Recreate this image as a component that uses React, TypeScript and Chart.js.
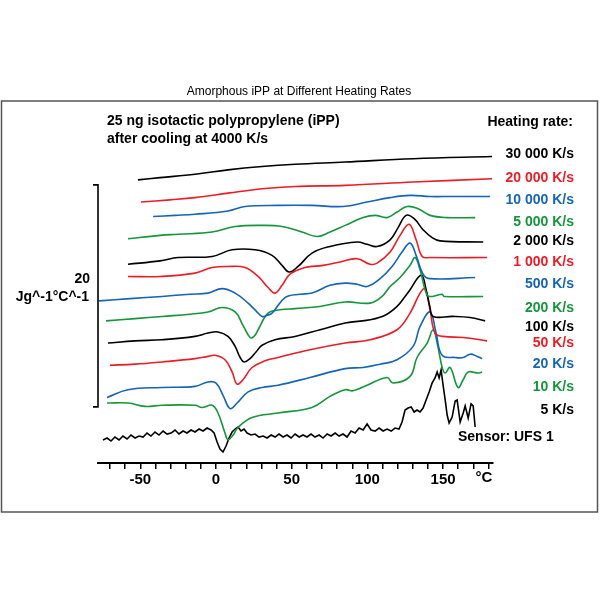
import React, { useEffect, useRef } from 'react';
import { Chart, registerables } from 'chart.js';

Chart.register(...registerables);

const FONT = '"Liberation Sans", Arial, Helvetica, sans-serif';

const BLACK = '#000000';
const RED = '#ec1c24';
const BLUE = '#1464b8';
const GREEN = '#14963a';

// Heating-rate labels (top to bottom)
const rateLabels = ['30 000 K/s', '20 000 K/s', '10 000 K/s', '5 000 K/s', '2 000 K/s', '1 000 K/s', '500 K/s', '200 K/s', '100 K/s', '50 K/s', '20 K/s', '10 K/s', '5 K/s'];
const rateColors = [BLACK, RED, BLUE, GREEN, BLACK, RED, BLUE, GREEN, BLACK, RED, BLUE, GREEN, BLACK];

// x tick labels every 50 °C, minor ticks every 10 °C
const xMajorStep = 50;

// Temperature (°C) and apparent heat capacity (J g^-1 °C^-1, curves offset vertically)
const t30000 = [-51.6, -37, -13.9, 7.9, 30.4, 52.2, 85.3, 130.2, 182.4];
const c30000 = [25.5, 25.7, 26.0, 26.4, 26.7, 26.9, 27.1, 27.4, 27.6];

const t20000 = [-49.6, -30.4, -13.9, 7.9, 30.4, 52.2, 85.3, 130.2, 182.4];
const c20000 = [23.5, 23.7, 23.9, 24.3, 24.7, 24.9, 25.0, 25.3, 25.6];

const t10000 = [-41.6, -27.1, -13.9, 7.9, 19.2, 41.0, 63.4, 83.9, 99.8, 115, 128.2, 141.4, 154.7, 181.1];
const c10000 = [22.2, 22.3, 22.4, 22.7, 23.1, 23.2, 23.2, 23.1, 23.5, 23.9, 24.1, 24.0, 24.0, 24.0];

const t5000 = [-58.2, -37, -25.1, -2.6, 12.6, 30.4, 43.6, 56.8, 66.8, 75.3, 85.3, 97.2, 105.1, 113, 119.6, 126.2, 133.5, 141.4, 152.7, 171.2];
const c5000 = [20.2, 20.5, 20.6, 20.8, 21.3, 21.4, 21.3, 20.8, 20.4, 20.8, 21.4, 22.1, 22.3, 22.1, 22.6, 23.1, 22.9, 22.3, 22.1, 22.1];

const t2000 = [-58.2, -37, -25.1, -2.6, 10.6, 25.8, 37, 43.6, 48.2, 54.2, 63.4, 75.3, 93.2, 99.8, 106.4, 115, 120.3, 125.6, 130.9, 136.8, 142.8, 148, 176.5];
const c2000 = [17.9, 18.2, 18.5, 18.6, 19.2, 19.2, 18.7, 17.8, 17.2, 17.7, 18.9, 19.5, 19.9, 19.7, 19.5, 20.1, 21.2, 22.3, 22.0, 21.0, 20.3, 20.0, 19.9];

const t1000 = [-58.2, -37, -13.9, -2.6, 7.9, 19.2, 27.8, 34.4, 39, 43.6, 48.9, 58.8, 70.7, 82, 93.2, 101.8, 106.4, 115, 121.6, 127.6, 132.2, 136.2, 141.4, 179.1];
const c1000 = [16.8, 16.8, 17.1, 17.6, 17.7, 17.6, 16.8, 15.8, 15.3, 16.0, 17.0, 17.6, 17.8, 18.1, 18.4, 17.9, 18.0, 19.0, 20.5, 21.5, 20.1, 18.6, 18.5, 18.5];

const t500 = [-77.3, -56.8, -35.7, -17.2, -5.3, 4, 12.6, 21.2, 26.4, 30.4, 33.7, 37, 45.6, 55.5, 63.4, 75.3, 85.3, 93.2, 99.8, 108.4, 116.3, 122.9, 128.2, 132.2, 136.8, 141.4, 171.2];
const c500 = [14.6, 14.8, 15.0, 15.2, 15.3, 15.7, 15.3, 14.4, 13.7, 13.2, 13.3, 13.5, 14.9, 15.2, 15.3, 16.0, 16.2, 16.1, 15.9, 16.6, 17.7, 19.0, 19.8, 18.7, 17.0, 16.6, 16.7];

const t200 = [-72.7, -53.5, -35.7, -17.2, -5.3, 4, 12.6, 17.8, 22.5, 25.1, 27.8, 34.4, 42.3, 52.2, 68.7, 85.3, 101.8, 109.7, 115, 121.6, 128.2, 131.5, 134.8, 139.5, 142.8, 149.4, 150.7, 176.5];
const c200 = [12.8, 13.0, 13.2, 13.4, 13.6, 14.0, 13.6, 12.4, 11.3, 11.4, 12.0, 13.5, 13.8, 13.9, 14.1, 14.5, 14.4, 15.0, 15.9, 16.7, 17.8, 18.5, 17.4, 15.1, 15.0, 15.2, 15.0, 15.0];

const t100 = [-71.4, -53.5, -35.7, -13.9, -5.3, 1.3, 7.9, 12.6, 15.9, 18.5, 22.5, 26.4, 30.4, 39, 52.2, 68.7, 85.3, 101.8, 111.7, 119.6, 124.9, 128.2, 133.5, 136.2, 138.8, 141.4, 143.4, 156.6, 167.9, 177.8];
const c100 = [10.8, 11.0, 11.1, 11.4, 11.7, 11.8, 11.4, 10.5, 9.5, 9.1, 9.4, 10.0, 10.6, 11.1, 11.4, 12.0, 12.6, 12.9, 13.3, 14.1, 15.0, 15.6, 16.7, 16.9, 15.6, 14.0, 13.2, 13.2, 13.1, 12.8];

const t50 = [-70.1, -53.5, -35.7, -13.9, -5.3, -0.7, 5.9, 10.6, 13.9, 17.8, 23.8, 32.4, 41, 62.1, 85.3, 101.8, 119.6, 128.2, 134.8, 138.1, 141.4, 144.7, 150, 163.3, 179.1];
const c50 = [8.8, 8.9, 9.1, 9.4, 9.6, 9.7, 9.3, 8.2, 7.1, 7.5, 8.6, 9.2, 9.5, 10.2, 10.8, 11.1, 12.0, 13.5, 15.3, 15.7, 13.8, 11.7, 11.4, 11.3, 11.0];

const t20 = [-72, -58.2, -35.7, -13.9, -5.3, 0, 4.6, 9.3, 13.9, 21.2, 30.4, 41, 62.1, 85.3, 97.2, 108.4, 119.6, 130.2, 134.8, 141.4, 145.4, 149.4, 158, 163.3, 167.9, 172.5, 175.8];
const c20 = [5.9, 6.6, 6.8, 6.9, 7.3, 7.2, 6.1, 4.9, 5.4, 6.4, 6.8, 7.0, 7.7, 8.5, 8.6, 8.9, 9.3, 10.5, 12.3, 13.6, 11.7, 9.7, 9.5, 9.5, 9.8, 9.6, 9.4];

const t10 = [-72, -58.2, -46.9, -35.7, -13.9, -9.3, -2.6, 1.3, 5.9, 7.9, 11.2, 14.5, 23.8, 41, 63.4, 75.3, 85.3, 90.5, 99.8, 113, 117, 128.2, 132.8, 139.5, 143.4, 146.1, 149.4, 151.4, 154.7, 159.9, 163.3, 166.6, 173.2, 175.8];
const c10 = [5.4, 5.4, 5.1, 5.2, 5.2, 5.0, 5.2, 4.5, 2.7, 2.1, 2.5, 3.2, 4.1, 4.5, 5.0, 6.0, 6.6, 6.5, 7.0, 7.7, 7.2, 7.8, 9.5, 10.8, 12.0, 10.8, 8.6, 8.1, 8.6, 6.8, 7.5, 8.2, 8.1, 8.2];

const t5 = [-74.7, -72.0, -69.4, -66.8, -64.1, -61.5, -58.8, -56.2, -53.5, -50.9, -48.2, -45.6, -43.0, -40.3, -37.7, -35.0, -32.4, -29.7, -27.1, -24.5, -21.8, -19.2, -16.5, -13.9, -11.2, -8.6, -5.9, -3.3, -1.3, 0.7, 2.6, 4.6, 6.6, 8.6, 10.6, 12.6, 14.5, 16.5, 18.5, 20.5, 23.1, 25.8, 28.4, 31.1, 33.7, 36.4, 39.0, 41.6, 44.3, 46.9, 49.6, 52.2, 54.9, 57.5, 60.1, 62.8, 65.4, 68.1, 70.7, 73.4, 76.0, 78.7, 81.3, 83.9, 86.6, 89.2, 91.9, 94.5, 97.2, 99.8, 102.4, 105.1, 107.7, 110.4, 113.0, 115.7, 118.3, 120.9, 122.9, 124.9, 126.9, 128.9, 130.9, 132.8, 134.8, 136.8, 138.8, 140.8, 142.8, 144.7, 146.1, 147.4, 148.7, 150.0, 151.4, 152.7, 154.0, 156.0, 158.0, 159.3, 161.3, 163.3, 164.6, 166.6, 168.5, 169.9, 171.2];
const c5 = [2.07, 2.25, 1.98, 2.34, 2.07, 2.43, 2.16, 2.52, 2.25, 2.43, 2.34, 2.70, 2.43, 2.79, 2.52, 2.88, 2.61, 2.70, 2.97, 2.61, 2.88, 2.70, 2.97, 2.79, 3.06, 2.88, 3.15, 2.97, 2.70, 1.89, 1.26, 0.99, 1.53, 2.25, 2.79, 3.06, 3.24, 2.88, 3.06, 2.70, 2.52, 2.61, 2.34, 2.43, 2.25, 2.52, 2.34, 2.61, 2.34, 2.52, 2.25, 2.61, 2.34, 2.52, 2.34, 2.61, 2.34, 2.52, 2.25, 2.61, 2.43, 2.70, 2.43, 2.61, 2.34, 2.88, 2.70, 3.15, 2.97, 3.51, 2.97, 2.88, 3.15, 2.88, 3.06, 2.88, 3.15, 3.06, 3.69, 4.77, 4.95, 5.05, 4.59, 4.77, 4.59, 4.95, 5.68, 6.40, 7.21, 7.66, 8.20, 7.66, 8.38, 7.03, 5.68, 4.32, 3.60, 4.14, 5.59, 5.68, 3.69, 4.50, 5.14, 4.05, 5.32, 5.14, 3.24];

// Scale bar: 20 J g^-1 °C^-1
const scaleBarBottom = 5.05;
const scaleBarSize = 20;

const seriesT = [t30000, t20000, t10000, t5000, t2000, t1000, t500, t200, t100, t50, t20, t10, t5];
const seriesC = [c30000, c20000, c10000, c5000, c2000, c1000, c500, c200, c100, c50, c20, c10, c5];

const pts = (t: number[], c: number[]) => t.map((x, i) => ({ x, y: c[i] }));

const labelYs = [154, 178, 200, 222, 241, 262, 284, 308, 327, 343, 364, 387, 410];

const annotations = {
  id: 'annotations',
  afterDraw(chart: any) {
    const ctx = chart.ctx as CanvasRenderingContext2D;
    const xs = chart.scales.x;
    const ys = chart.scales.y;
    ctx.save();
    // frame
    ctx.strokeStyle = '#555555';
    ctx.lineWidth = 1.5;
    ctx.strokeRect(1.5, 101, 596, 411);

    ctx.textBaseline = 'middle';
    // title
    ctx.fillStyle = '#000';
    ctx.font = `12px ${FONT}`;
    ctx.textAlign = 'center';
    ctx.fillText('Amorphous iPP at Different Heating Rates', 299, 92);

    ctx.font = `bold 14px ${FONT}`;
    ctx.textAlign = 'left';
    ctx.fillText('25 ng isotactic polypropylene (iPP)', 107, 121);
    ctx.fillText('after cooling at 4000 K/s', 107, 139);
    ctx.textAlign = 'right';
    ctx.fillText('Heating rate:', 573, 122);

    rateLabels.forEach((lab, i) => {
      ctx.fillStyle = rateColors[i];
      ctx.fillText(lab, 574, labelYs[i]);
    });

    ctx.fillStyle = '#000';
    ctx.textAlign = 'left';
    ctx.fillText('Sensor: UFS 1', 458, 437);

    // °C unit
    ctx.font = `bold 15px ${FONT}`;
    ctx.textAlign = 'center';
    ctx.fillText('°C', 484, 478);

    // scale bar
    const bx = xs.getPixelForValue(xs.min);
    const top = ys.getPixelForValue(scaleBarBottom + scaleBarSize);
    const bot = ys.getPixelForValue(scaleBarBottom);
    ctx.strokeStyle = '#000';
    ctx.lineWidth = 1.6;
    ctx.beginPath();
    ctx.moveTo(bx - 5, top);
    ctx.lineTo(bx, top);
    ctx.lineTo(bx, bot);
    ctx.lineTo(bx - 5, bot);
    ctx.stroke();

    ctx.font = `bold 14px ${FONT}`;
    ctx.textAlign = 'right';
    ctx.fillText(String(scaleBarSize), 90, 279);
    ctx.fillText('Jg^-1°C^-1', 89, 297);
    ctx.restore();
  },
};

export default function App() {
  const ref = useRef<HTMLCanvasElement>(null);
  useEffect(() => {
    const chart = new Chart(ref.current as HTMLCanvasElement, {
      type: 'line',
      data: {
        datasets: seriesT.map((t, i) => ({
          label: rateLabels[i],
          data: pts(t, seriesC[i]),
          borderColor: rateColors[i],
          backgroundColor: rateColors[i],
          borderWidth: 1.6,
          pointRadius: 0,
          fill: false,
          tension: i === 12 ? 0 : 0.4,
        })),
      },
      options: {
        responsive: false,
        animation: false,
        layout: { padding: { left: 98, right: 107, top: 101, bottom: 100 } },
        plugins: { legend: { display: false }, tooltip: { enabled: false }, title: { display: false } },
        scales: {
          x: {
            type: 'linear',
            min: -78,
            max: 183,
            afterFit: (s: any) => {
              s.height = 37;
            },
            border: { display: true, color: '#000', width: 2 },
            grid: { drawOnChartArea: false, drawTicks: true, tickLength: 6, color: '#000', lineWidth: 1.5 },
            ticks: {
              stepSize: 10,
              includeBounds: false,
              autoSkip: false,
              maxRotation: 0,
              minRotation: 0,
              color: '#000',
              padding: 2,
              font: { family: FONT, size: 15, weight: 'bold' },
              callback: (v: any) => (Number(v) % xMajorStep === 0 ? String(v) : ''),
            },
          },
          y: { type: 'linear', display: false, min: 0, max: 32.6 },
        },
      } as any,
      plugins: [annotations],
    });
    return () => chart.destroy();
  }, []);
  return (
    <div style={{ position: 'absolute', left: 0, top: 0, width: 600, height: 600, background: '#fff' }}>
      <canvas ref={ref} width={600} height={600} />
    </div>
  );
}
